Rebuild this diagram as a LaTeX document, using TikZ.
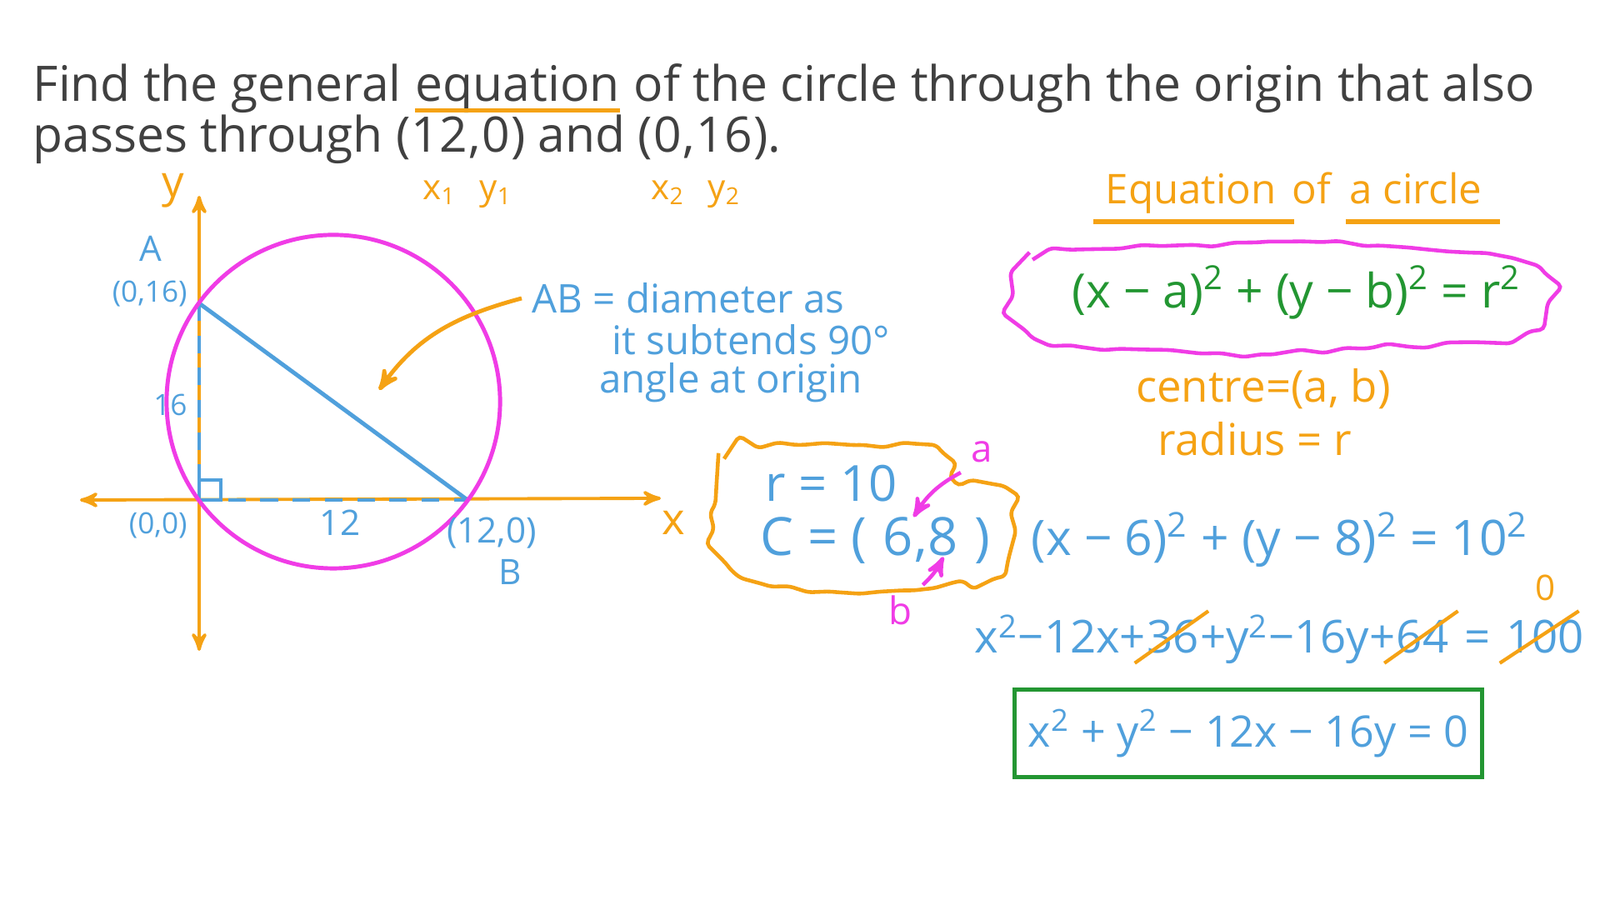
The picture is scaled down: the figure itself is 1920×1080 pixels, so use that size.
\documentclass[tikz,border=0pt]{standalone}
\usepackage{fontspec}
\setmainfont{Open Sans}
\usepackage{tikz}
\usetikzlibrary{positioning}
\usetikzlibrary{arrows}
\usetikzlibrary{decorations.pathmorphing}

\definecolor{inkGray}{RGB}{64,64,64}
\definecolor{inkBlue}{RGB}{80,160,220}
\definecolor{inkOrange}{RGB}{245,162,20}
\definecolor{inkPink}{RGB}{240,60,230}
\definecolor{inkGreen}{RGB}{35,150,50}

\begin{document}
\begin{tikzpicture}[x=0.01cm,y=0.01cm,>=stealth',
	piece/.style={anchor=base west,inner sep=0pt},
	title text/.style={text=inkGray,font=\fontsize{16.7}{20}\selectfont},
	blue text/.style={text=inkBlue,font=\fontsize{12}{14}\selectfont},
	note text/.style={text=inkBlue,font=\fontsize{13.5}{16}\selectfont},
	small blue/.style={text=inkBlue,font=\fontsize{10}{12}\selectfont},
	orange text/.style={text=inkOrange,font=\fontsize{15}{18}\selectfont},
	sub text/.style={text=inkOrange,font=\fontsize{12}{14}\selectfont},
	green text/.style={text=inkGreen,font=\fontsize{16.2}{19}\selectfont},
	eq text/.style={text=inkBlue,font=\fontsize{18}{21}\selectfont},
	big blue/.style={text=inkBlue,font=\fontsize{16.7}{20}\selectfont},
	mid blue/.style={text=inkBlue,font=\fontsize{15.5}{18}\selectfont},
	box blue/.style={text=inkBlue,font=\fontsize{14.8}{18}\selectfont},
	pink text/.style={text=inkPink,font=\fontsize{13}{15}\selectfont},
	axis line/.style={draw=inkOrange,line width=1.1pt},
	blue line/.style={draw=inkBlue,line width=1.4pt},
	pink arrow/.style={draw=inkPink,line width=1.3pt,->},
	strike/.style={draw=inkOrange,line width=1.2pt},
	wobbly/.style={line width=1.3pt,decorate,
		decoration={random steps,segment length=7pt,amplitude=1.2pt},rounded corners=1.5pt}]

	\fill[white] (0,0) rectangle (1920,1080);
	\useasboundingbox (0,0) rectangle (1920,1080);

	% question
	\node[title text,piece] (t1) at (39,958) {Find the general};
	\node[title text,piece] (t2) at ([xshift=4.5pt]t1.base east) {equation};
	\node[title text,piece] (t3) at ([xshift=4.5pt]t2.base east) {of the circle through the origin that also};
	\draw[inkOrange,line width=1.5pt] ([yshift=-3pt]t2.base west) -- ([yshift=-3pt]t2.base east);

	\node[title text,piece] (p1) at (39,897) {passes through (};
	\node[title text,piece] (p12) at (p1.base east) {12};
	\node[title text,piece] (p2) at (p12.base east) {,};
	\node[title text,piece] (p0) at (p2.base east) {0};
	\node[title text,piece] (p3) at (p0.base east) {) and (};
	\node[title text,piece] (q0) at (p3.base east) {0};
	\node[title text,piece] (p4) at (q0.base east) {,};
	\node[title text,piece] (q16) at (p4.base east) {16};
	\node[title text,piece] (p5) at (q16.base east) {).};

	\node[sub text,anchor=north] (x1) at ([yshift=-6pt]p12.base) {x\textsubscript{1}};
	\node[sub text,anchor=north] (y1) at ([yshift=-6pt]p0.base) {y\textsubscript{1}};
	\node[sub text,anchor=north] (x2) at ([yshift=-6pt]q0.base) {x\textsubscript{2}};
	\node[sub text,anchor=north] (y2) at ([yshift=-6pt]q16.base) {y\textsubscript{2}};

	% axes and circle
	\coordinate (O) at (239,480);
	\coordinate (A) at (239,716);
	\coordinate (B) at (561,480);
	\coordinate (C) at (400,598);
	\coordinate (xL) at (96,480);
	\coordinate (xR) at (793,482);
	\coordinate (yT) at (239,845);
	\coordinate (yB) at (239,299);

	\draw[axis line,<->] (xL) -- (xR);
	\draw[axis line,<->] (yB) -- (yT);
	\draw[blue line,dash pattern=on 6pt off 5pt] (A) -- (O) -- (B);
	\draw[blue line] (A) -- (B);
	\draw[blue line,line width=1.2pt] (O) rectangle ++(26,24);
	\draw[inkPink,line width=1.4pt] (C) circle [radius=2cm];

	\node[orange text] (ylbl) at (208,851) {y};
	\node[orange text] (xlbl) at (808,453) {x};
	\node[blue text] (Albl) at (181,782) {A};
	\node[small blue,anchor=east] (Acoord) at (237,727) {(0,16)};
	\node[small blue,anchor=east] (len16) at (237,594) {16};
	\node[small blue,anchor=east] (Ocoord) at (237,449) {(0,0)};
	\node[blue text] (len12) at (408,453) {12};
	\node[blue text] (Bcoord) at (590,440) {(12,0)};
	\node[blue text] (Blbl) at (612,394) {B};

	\node[note text,anchor=west] (dia1) at (626,722) {AB = diameter as};
	\node[note text,anchor=west] (dia2) at (722,672) {it subtends 90°};
	\node[note text,anchor=west] (dia3) at (707,621) {angle at origin};
	\coordinate (tip) at (455,612);
	\draw[inkOrange,line width=1.4pt,->] (dia1.west) to[out=195,in=55] (tip);

	% general form
	\node[orange text,piece,font=\fontsize{14}{17}\selectfont] (eqT1) at (1326,835) {Equation};
	\node[orange text,piece,font=\fontsize{14}{17}\selectfont] (eqT2) at ([xshift=5pt]eqT1.base east) {of};
	\node[orange text,piece,font=\fontsize{14}{17}\selectfont] (eqT3) at ([xshift=6pt]eqT2.base east) {a circle};
	\draw[inkOrange,line width=1.5pt] ([xshift=-4pt,yshift=-6pt]eqT1.base west) -- ([xshift=6pt,yshift=-6pt]eqT1.base east);
	\draw[inkOrange,line width=1.5pt] ([xshift=-1pt,yshift=-6pt]eqT3.base west) -- ([xshift=6pt,yshift=-6pt]eqT3.base east);

	\node[green text] (gen) at (1556,729) {(x − a)\textsuperscript{2} + (y − b)\textsuperscript{2} = r\textsuperscript{2}};
	\draw[wobbly,inkPink] plot[smooth cycle] coordinates {(1216,720) (1235,765) (1290,780) (1400,785)
		(1530,790) (1660,785) (1790,775) (1850,755) (1858,722) (1840,685) (1770,670) (1640,662)
		(1520,655) (1400,660) (1290,665) (1235,680)};

	\node[orange text] (centre) at (1516,613) {centre=(a, b)};
	\node[orange text] (radius) at (1506,553) {radius = r};

	% this circle
	\node[eq text,piece,font=\fontsize{17}{20}\selectfont] (rEq) at (918,478) {r = 10};
	\node[eq text,piece] (cL) at (912,413) {C = (};
	\node[eq text,piece] (six) at ([xshift=5pt]cL.base east) {6};
	\node[eq text,piece] (cm) at (six.base east) {,};
	\node[eq text,piece] (eight) at (cm.base east) {8};
	\node[eq text,piece] (cR) at ([xshift=5pt]eight.base east) {)};
	\draw[wobbly,inkOrange] plot[smooth cycle] coordinates {(858,470) (866,525) (905,541) (960,546)
		(1030,546) (1090,548) (1127,540) (1136,512) (1160,505) (1200,500) (1212,470) (1210,410)
		(1198,388) (1150,382) (1090,372) (1000,370) (920,378) (875,400) (858,440)};

	\node[pink text] (aLbl) at (1178,538) {a};
	\node[pink text] (bLbl) at (1081,348) {b};
	\draw[pink arrow] (aLbl.south west) to[bend right=15] (six.north east);
	\draw[pink arrow] (bLbl.north east) to[bend right=10] (eight.south);

	\node[big blue,piece] (circEq) at (1237,413) {(x − 6)\textsuperscript{2} + (y − 8)\textsuperscript{2} = 10\textsuperscript{2}};

	\node[mid blue,piece] (e1) at (1169,296) {x\textsuperscript{2}−12x+};
	\node[mid blue,piece] (n36) at (e1.base east) {36};
	\node[mid blue,piece] (e2) at (n36.base east) {+y\textsuperscript{2}−16y+};
	\node[mid blue,piece] (n64) at (e2.base east) {64};
	\node[mid blue,piece] (e3) at ([xshift=5pt]n64.base east) {=};
	\node[mid blue,piece] (n100) at ([xshift=5pt]e3.base east) {100};
	\draw[strike] ([xshift=-4pt,yshift=-3pt]n36.south west) -- ([xshift=3pt,yshift=3pt]n36.north east);
	\draw[strike] ([xshift=-4pt,yshift=-3pt]n64.south west) -- ([xshift=3pt,yshift=3pt]n64.north east);
	\draw[strike] ([xshift=-2pt,yshift=-3pt]n100.south west) -- ([xshift=-2pt,yshift=3pt]n100.north east);
	\node[sub text,anchor=south] (zero) at ([yshift=3pt]n100.north) {0};

	\node[box blue,draw=inkGreen,line width=1.6pt,inner sep=2pt,minimum width=5.61cm,minimum height=1.05cm] (final)
		at (1498,200) {x\textsuperscript{2} + y\textsuperscript{2} − 12x − 16y = 0};
\end{tikzpicture}
\end{document}
